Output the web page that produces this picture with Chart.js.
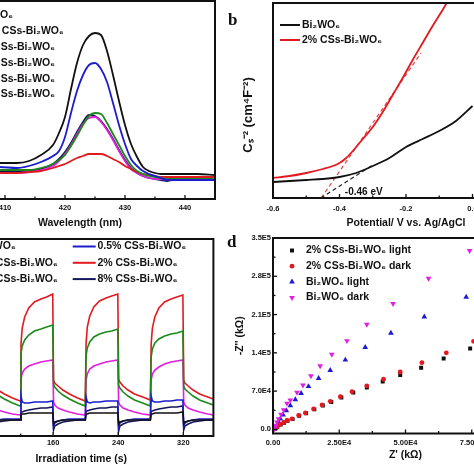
<!DOCTYPE html>
<html>
<head>
<meta charset="utf-8">
<script src="https://cdn.jsdelivr.net/npm/chart.js@4.4.1/dist/chart.umd.min.js"></script>
<style>
  html, body { margin: 0; padding: 0; background: #fff; }
  body { width: 474px; height: 474px; overflow: hidden; position: relative; }
  canvas { position: absolute; }
  .tag { position: absolute; font: bold 17px 'Liberation Serif', 'Times New Roman', serif; line-height: 17px; color: #111; }
</style>
</head>
<body>
<canvas id="pl" width="280" height="234" style="left:-60px;top:0px"></canvas>
<canvas id="ms" width="312" height="234" style="left:237px;top:0px"></canvas>
<canvas id="pc" width="280" height="238" style="left:-60px;top:236px"></canvas>
<canvas id="eis" width="315" height="244" style="left:233px;top:230px"></canvas>
<div class="tag" style="left:228px;top:11px">b</div>
<div class="tag" style="left:227px;top:233px">d</div>
<script>
// Sample names shared by panels a and c
const samples = ['Bi₂WO₆', '0.5% CSs-Bi₂WO₆', '1% CSs-Bi₂WO₆', '2% CSs-Bi₂WO₆', '4% CSs-Bi₂WO₆', '8% CSs-Bi₂WO₆'];

// (a) PL spectra, arbitrary intensity
const wavelength = [400, 405, 409, 412, 414, 416, 418, 419, 420, 421, 422, 423, 424, 425, 426, 427, 428, 429, 430, 431, 432, 433, 434, 435, 436, 437, 438, 440, 442, 445];
const plPure = [38, 37, 36, 36, 38, 44, 54, 66, 82, 110, 136, 154, 163, 166, 164, 148, 124, 98, 74, 55, 42, 32, 28, 26, 25, 25, 25, 25, 25, 24];
const pl05 = [33, 32, 32, 31, 33, 37, 43, 48, 62, 86, 108, 124, 134, 136, 130, 117, 96, 74, 55, 40, 33, 28, 25, 23, 21, 19, 19, 19, 19, 19];
const pl1 = [30, 30, 29, 29, 29, 31, 35, 39, 44, 53, 63, 74, 83, 86, 85, 76, 65, 54, 43, 34, 28, 25, 23, 22, 21, 20, 20, 20, 20, 20];
const pl2 = [26, 26, 26, 26, 27, 28, 31, 33, 35, 38, 41, 43, 45, 45, 45, 43, 40, 37, 33, 30, 27, 25, 24, 23, 22, 22, 22, 22, 22, 22];
const pl4 = [26, 26, 26, 26, 27, 29, 33, 38, 45, 54, 65, 75, 81, 82, 77, 69, 59, 48, 38, 30, 26, 23, 21, 20, 20, 19, 19, 20, 20, 20];
const pl8 = [28, 28, 27, 27, 28, 30, 35, 40, 47, 56, 67, 77, 84, 83, 78, 70, 60, 49, 39, 31, 26, 23, 21, 20, 19, 18, 19, 19, 19, 19];
const plTicks = [410, 420, 430, 440];
const plMinor = [405, 415, 425, 435];

// (b) Mott-Schottky, arbitrary units
const potPure = [-0.6, -0.55, -0.5, -0.45, -0.4, -0.35, -0.3, -0.25, -0.2, -0.15, -0.1, -0.05, 0.0];
const mottPure = [16, 17, 18, 19, 21, 25, 32, 40, 51, 59, 67, 77, 92];
const potCSs = [-0.6, -0.55, -0.5, -0.45, -0.42, -0.4, -0.38, -0.36, -0.33, -0.3, -0.27, -0.24, -0.21, -0.18, -0.15, -0.12, -0.09, -0.06];
const mottCSs = [20, 22, 25, 29, 32, 35, 40, 47, 59, 71, 86, 103, 120, 138, 155, 172, 188, 205];
const fitPureX = [-0.456, -0.30];
const fitPureY = [0, 33];
const fitCSsX = [-0.455, -0.155];
const fitCSsY = [0, 145];
const msTicks = [-0.6, -0.4, -0.2, 0.0];
const msMinor = [-0.5, -0.3, -0.1];

// (c) transient photocurrent, arbitrary units
const tIrr = [80, 82, 86, 92, 100, 110, 119.5, 120.5, 122, 125, 130, 137, 145, 152, 159.5, 160.5, 162, 166, 172, 180, 190, 199.5,
  200.5, 202, 205, 210, 217, 225, 232, 239.5, 240.5, 242, 246, 252, 260, 270, 279.5,
  280.5, 282, 285, 290, 297, 305, 312, 319.5, 320.5, 322, 326, 332, 340, 350, 357];
const pcPure = [13, 14, 15, 16, 16, 16, 16, 22, 22, 22, 23, 23, 23, 23, 23, 12, 14, 15, 16, 16, 16, 16,
  22, 22, 23, 23, 23, 23, 23, 23, 12, 14, 15, 16, 16, 16, 16,
  22, 22, 23, 23, 23, 23, 23, 24, 12, 14, 15, 16, 16, 16, 16];
const pc05 = [10, 13, 15, 16, 17, 17, 17, 40, 34, 33, 33, 34, 34, 34, 35, 10, 13, 15, 16, 17, 17, 17,
  39, 34, 33, 34, 34, 35, 35, 35, 9, 13, 15, 16, 17, 17, 17,
  40, 35, 34, 34, 35, 35, 36, 36, 10, 13, 15, 16, 17, 17, 17];
const pc1 = [52, 49, 45, 41, 37, 33, 30, 82, 90, 96, 101, 105, 107, 109, 111, 52, 49, 45, 41, 37, 33, 30,
  80, 88, 94, 99, 102, 104, 105, 107, 51, 48, 44, 40, 36, 33, 30,
  79, 87, 93, 97, 100, 102, 103, 105, 50, 47, 44, 40, 36, 33, 31];
const pc2 = [56, 53, 50, 46, 42, 38, 35, 92, 108, 119, 128, 134, 137, 139, 142, 56, 53, 50, 46, 42, 38, 35,
  93, 109, 120, 129, 135, 138, 140, 142, 57, 54, 50, 46, 42, 39, 36,
  92, 108, 119, 128, 134, 137, 139, 141, 56, 53, 50, 46, 42, 39, 37];
const pc4 = [34, 31, 28, 26, 24, 22, 21, 57, 63, 67, 70, 72, 74, 75, 76, 34, 31, 28, 26, 24, 22, 21,
  56, 62, 67, 70, 72, 74, 75, 76, 34, 31, 28, 26, 24, 22, 21,
  56, 62, 66, 69, 72, 74, 75, 76, 34, 31, 28, 26, 24, 22, 21];
const pc8 = [6, 10, 12, 14, 15, 16, 16, 24, 24, 25, 26, 27, 28, 28, 29, 6, 10, 12, 14, 15, 16, 16,
  25, 25, 26, 27, 28, 28, 29, 29, 5, 10, 12, 14, 15, 16, 16,
  25, 25, 26, 27, 28, 29, 29, 30, 6, 10, 12, 14, 15, 16, 16];
const pcTicks = [160, 240, 320];
const pcMinor = [120, 200, 280];

// (d) Nyquist plots
const eisLabels = ['2% CSs-Bi₂WO₆ light', '2% CSs-Bi₂WO₆ dark', 'Bi₂WO₆ light', 'Bi₂WO₆ dark'];
const zLight2 = [600, 1600, 2900, 4200, 5500, 7400, 9900, 12500, 15600, 18800, 22000, 25800, 30300, 35400, 41400, 48000, 55900, 64400, 74400];
const nLight2 = [600, 4000, 8700, 12200, 15800, 18800, 24800, 29500, 36600, 43600, 50200, 58400, 67300, 76700, 87600, 99600, 112900, 129700, 147800];
const zDark2 = [500, 1500, 2750, 4030, 5280, 7170, 9680, 12200, 15300, 18500, 21600, 25400, 29800, 35400, 41700, 48000, 56200, 65400, 75700];
const nDark2 = [700, 4340, 9200, 12800, 16400, 19400, 25500, 30200, 37500, 44700, 51400, 59800, 68900, 79700, 91700, 105000, 122000, 140000, 161000];
const zLight0 = [870, 1500, 2140, 2750, 3770, 5030, 6540, 8420, 10600, 13400, 17200, 21600, 27300, 34800, 44500, 57100, 72900];
const nLight0 = [1300, 7400, 13400, 19400, 26600, 34500, 43600, 54400, 65800, 78500, 93500, 108000, 127000, 150000, 176000, 206000, 242000];
const zDark0 = [500, 1000, 1500, 2140, 3020, 4030, 5280, 6540, 9050, 11300, 14300, 17800, 22200, 27900, 35400, 45300, 58700, 74200];
const nDark0 = [1300, 7400, 13400, 19400, 27300, 35700, 47700, 53700, 67600, 80900, 97800, 116000, 137000, 162000, 192000, 230000, 276000, 327000];
const eisXTicks = [0, 25000, 50000, 75000];
const eisXMinor = [12500, 37500, 62500];
const eisYTicks = [0, 70000, 140000, 210000, 280000, 350000];
const eisYMinor = [35000, 105000, 175000, 245000, 315000];

const sampleColors = ['#111111', '#1c1ccf', '#1b8a1b', '#e3191f', '#e11fe0', '#15155a'];
const FONT = "'Liberation Sans', Arial, Helvetica, sans-serif";

Chart.defaults.font.family = FONT;
Chart.defaults.font.weight = 'bold';
Chart.defaults.color = '#111';
Chart.defaults.animation = false;
Chart.defaults.plugins.legend.display = false;
Chart.defaults.plugins.tooltip.enabled = false;

const pts = (xs, ys) => xs.map((x, i) => ({ x, y: ys[i] }));
const setTicks = vals => s => { s.ticks = vals.map(v => ({ value: v })); };

// box round the plot area with inward tick marks
const framePlugin = {
  id: 'frame',
  afterDatasetsDraw(chart, args, o) {
    const { ctx, chartArea: a, scales } = chart;
    ctx.save();
    ctx.strokeStyle = '#111';
    ctx.lineWidth = 2;
    ctx.strokeRect(a.left, a.top, a.right - a.left, a.bottom - a.top);
    ctx.lineWidth = 1.3;
    const mark = (vals, len, axis) => (vals || []).forEach(v => {
      ctx.beginPath();
      if (axis === 'x') {
        const p = scales.x.getPixelForValue(v);
        ctx.moveTo(p, a.bottom); ctx.lineTo(p, a.bottom - len);
      } else {
        const p = scales.y.getPixelForValue(v);
        ctx.moveTo(a.left, p); ctx.lineTo(a.left + len, p);
      }
      ctx.stroke();
    });
    mark(o.xMajor, 4, 'x'); mark(o.xMinor, 2.5, 'x');
    mark(o.yMajor, 4, 'y'); mark(o.yMinor, 2.5, 'y');
    ctx.restore();
  }
};

// legend drawn inside the plot
const legendPlugin = {
  id: 'inLegend',
  afterDraw(chart, args, o) {
    if (!o.x) return;
    const ctx = chart.ctx;
    ctx.save();
    ctx.font = 'bold ' + o.size + 'px ' + FONT;
    ctx.textBaseline = 'middle';
    let k = 0;
    chart.data.datasets.forEach(ds => {
      if (!ds.label) return;
      const col = k % (o.cols || 1), row = Math.floor(k / (o.cols || 1));
      const x = o.x + col * (o.colDx || 0), y = o.y + row * o.dy;
      k++;
      if (o.marker) {
        ctx.fillStyle = ds.backgroundColor;
        ctx.strokeStyle = ds.backgroundColor;
        Chart.helpers.drawPoint(ctx, { pointStyle: ds.pointStyle, radius: ds.pointRadius, rotation: ds.pointRotation || 0, borderWidth: 0 }, x, y);
      } else {
        ctx.strokeStyle = ds.borderColor;
        ctx.lineWidth = 2;
        ctx.beginPath(); ctx.moveTo(x, y); ctx.lineTo(x + o.lineLen, y); ctx.stroke();
      }
      ctx.fillStyle = '#111';
      ctx.fillText(ds.label, x + o.textDx, y);
    });
    ctx.restore();
  }
};

// free text: data position (xv, yv) or canvas position (px, py)
const notesPlugin = {
  id: 'notes',
  afterDraw(chart, args, o) {
    const ctx = chart.ctx;
    (o.items || []).forEach(n => {
      const x = n.xv !== undefined ? chart.scales.x.getPixelForValue(n.xv) : n.px;
      const y = n.yv !== undefined ? chart.scales.y.getPixelForValue(n.yv) : n.py;
      ctx.save();
      ctx.translate(x, y);
      ctx.rotate((n.rot || 0) * Math.PI / 180);
      ctx.font = 'bold ' + n.size + 'px ' + FONT;
      ctx.fillStyle = '#111';
      ctx.textAlign = n.align || 'left';
      ctx.textBaseline = 'middle';
      ctx.fillText(n.text, 0, 0);
      ctx.restore();
    });
  }
};

const allPlugins = [framePlugin, legendPlugin, notesPlugin];

function xAxis(min, max, ticks, height, pad, title, titlePad, fmt) {
  return {
    type: 'linear', min, max,
    grid: { display: false, drawTicks: false }, border: { display: false },
    afterBuildTicks: setTicks(ticks),
    afterFit: s => { s.height = height; },
    ticks: { padding: pad, font: { size: 7.5 }, maxRotation: 0, callback: fmt || (v => v) },
    title: { display: true, text: title, font: { size: 10.5 }, padding: { top: 0, bottom: titlePad } }
  };
}

// (a)
const plSeries = [plPure, pl05, pl1, pl2, pl4, pl8];
new Chart(document.getElementById('pl'), {
  type: 'line',
  data: {
    datasets: plSeries.map((vals, i) => ({
      label: samples[i], data: pts(wavelength, vals), borderColor: sampleColors[i],
      borderWidth: 1.8, pointRadius: 0, cubicInterpolationMode: 'monotone'
    }))
  },
  options: {
    responsive: false,
    layout: { padding: { left: 5, right: 5, top: 1, bottom: 0 } },
    scales: {
      x: xAxis(400, 445, plTicks, 35, 4.5, 'Wavelength (nm)', 5),
      y: { display: false, min: 0, max: 198 }
    },
    plugins: {
      frame: { xMajor: plTicks, xMinor: plMinor },
      inLegend: { x: 8, y: 15.5, dy: 15.8, lineLen: 23, textDx: 27, size: 10.5 }
    }
  },
  plugins: allPlugins
});

// (b)
new Chart(document.getElementById('ms'), {
  type: 'line',
  data: {
    datasets: [
      { label: 'Bi₂WO₆', data: pts(potPure, mottPure), borderColor: '#111', borderWidth: 1.8, pointRadius: 0, cubicInterpolationMode: 'monotone' },
      { label: '2% CSs-Bi₂WO₆', data: pts(potCSs, mottCSs), borderColor: '#e3191f', borderWidth: 1.8, pointRadius: 0, cubicInterpolationMode: 'monotone' },
      { label: '', data: pts(fitPureX, fitPureY), borderColor: '#222', borderWidth: 1.2, borderDash: [4, 3], pointRadius: 0 },
      { label: '', data: pts(fitCSsX, fitCSsY), borderColor: '#d9464a', borderWidth: 1.2, borderDash: [4, 3], pointRadius: 0 }
    ]
  },
  options: {
    responsive: false,
    layout: { padding: { left: 36, right: 10, top: 3, bottom: 0 } },
    scales: {
      x: xAxis(-0.6, 0.2, msTicks, 36, 6, 'Potential/ V vs. Ag/AgCl', 4.7, v => v.toFixed(1)),
      y: { display: false, min: 0, max: 195 }
    },
    plugins: {
      frame: { xMajor: msTicks, xMinor: msMinor },
      inLegend: { x: 43, y: 25, dy: 15, lineLen: 20, textDx: 22, size: 10.5 },
      notes: { items: [
        { text: '-0.46 eV', xv: -0.384, yv: 6, size: 10 },
        { text: 'Cₛ⁻² (cm⁴F⁻²)', px: 11, py: 115, rot: -90, align: 'center', size: 13 }
      ] }
    }
  },
  plugins: allPlugins
});

// (c)
const pcSeries = [pcPure, pc05, pc1, pc2, pc4, pc8];
new Chart(document.getElementById('pc'), {
  type: 'line',
  data: {
    datasets: pcSeries.map((vals, i) => ({
      label: samples[i], data: pts(tIrr, vals), borderColor: sampleColors[i],
      borderWidth: 1.6, pointRadius: 0, tension: 0
    }))
  },
  options: {
    responsive: false,
    layout: { padding: { left: 9, right: 6.6, top: 3, bottom: 0 } },
    scales: {
      x: xAxis(32, 357, pcTicks, 38, 2.5, 'Irradiation time (s)', 8.7),
      y: { display: false, min: 0, max: 197 }
    },
    plugins: {
      frame: { xMajor: pcTicks, xMinor: pcMinor },
      inLegend: { x: 13, y: 10.5, dy: 16.3, cols: 2, colDx: 119.7, lineLen: 23, textDx: 24.7, size: 10.5 }
    }
  },
  plugins: allPlugins
});

// (d)
const eisColors = ['#111111', '#e3191f', '#1c1ccf', '#e11fe0'];
const eisData = [pts(zLight2, nLight2), pts(zDark2, nDark2), pts(zLight0, nLight0), pts(zDark0, nDark0)];
const eisStyles = [
  { pointStyle: 'rect', pointRadius: 2.8, order: 2 },
  { pointStyle: 'circle', pointRadius: 2.4, order: 1 },
  { pointStyle: 'triangle', pointRadius: 3.3, order: 1 },
  { pointStyle: 'triangle', pointRadius: 3.3, pointRotation: 180, order: 0 }
];
new Chart(document.getElementById('eis'), {
  type: 'scatter',
  data: {
    datasets: eisData.map((d, i) => Object.assign({
      label: eisLabels[i], data: d, backgroundColor: eisColors[i], borderColor: eisColors[i],
      pointBorderWidth: 0, showLine: false
    }, eisStyles[i]))
  },
  options: {
    responsive: false,
    layout: { padding: { left: 0, right: 10, top: 8, bottom: 0 } },
    scales: {
      x: xAxis(0, 100000, eisXTicks, 40.5, 5, "Z' (kΩ)", 12.4, v => v === 0 ? '0.00' : v.toExponential(2).replace('e+', 'E')),
      y: {
        type: 'linear', min: -7500, max: 350000,
        grid: { display: false, drawTicks: false }, border: { display: false },
        afterBuildTicks: setTicks(eisYTicks),
        afterFit: s => { s.width = 40; },
        ticks: { padding: 2, font: { size: 7.5 }, callback: v => v === 0 ? '0.0' : v.toExponential(1).replace('e+', 'E') },
        title: { display: true, text: "-Z'' (kΩ)", font: { size: 10.5 }, padding: { top: 0.5, bottom: 0 } }
      }
    },
    plugins: {
      frame: { xMajor: eisXTicks, xMinor: eisXMinor, yMajor: eisYTicks, yMinor: eisYMinor },
      inLegend: { x: 59, y: 20.5, dy: 15.7, marker: true, textDx: 14, size: 10.5 }
    }
  },
  plugins: allPlugins
});
</script>
</body>
</html>
